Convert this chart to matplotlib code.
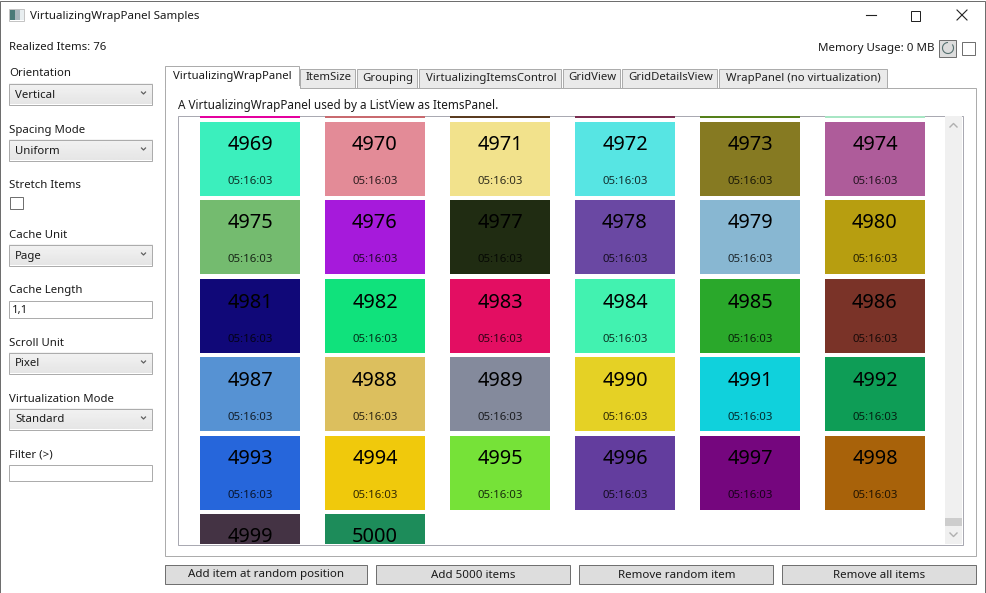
import numpy as np
import matplotlib
matplotlib.use('Agg')
import matplotlib.pyplot as plt
from matplotlib.patches import Rectangle, Arc

plt.rcParams['font.family'] = ['Noto Sans', 'DejaVu Sans']

W, H = 986, 593

# items, read row by row
item_ids = [4969, 4970, 4971, 4972, 4973, 4974,
            4975, 4976, 4977, 4978, 4979, 4980,
            4981, 4982, 4983, 4984, 4985, 4986,
            4987, 4988, 4989, 4990, 4991, 4992,
            4993, 4994, 4995, 4996, 4997, 4998,
            4999, 5000]
item_colors = ['#3befbd', '#e38b97', '#f2e28c', '#57e5e3', '#867a22', '#ae5c9a',
               '#74bb6f', '#a61adb', '#202c12', '#6a48a3', '#88b7d2', '#b79e10',
               '#100878', '#10e27c', '#e30e62', '#42f2b0', '#2aa82b', '#7a3328',
               '#5692d3', '#dcbf5e', '#848a9c', '#e5d125', '#10d1dc', '#0e9d56',
               '#2666db', '#f0c90c', '#76e238', '#633d9e', '#75067e', '#a8620a',
               '#443344', '#1d8c5a']
# bottom edge of the row scrolled out above the list
strip_colors = ['#e4009e', '#c96a6f', '#5b3c20', '#7a2c50', '#55801a', '#a8e6c4']
item_time = '05:16:03'

col_left = [200, 325, 450, 575, 700, 825]
row_top = [122, 200, 279, 357, 436, 514]
strip_top = 44
cell_w, cell_h = 100, 74
list_bottom = 544

tab_labels = ['VirtualizingWrapPanel', 'ItemSize', 'Grouping', 'VirtualizingItemsControl',
              'GridView', 'GridDetailsView', 'WrapPanel (no virtualization)']
tab_edges = [165, 300, 357, 419, 563, 622, 719, 888]

combo_labels = [('Orientation', 74, 'Vertical', 83), ('Spacing Mode', 130, 'Uniform', 139),
                ('Cache Unit', 235, 'Page', 244), ('Scroll Unit', 343, 'Pixel', 352),
                ('Virtualization Mode', 399, 'Standard', 408)]
button_labels = ['Add item at random position', 'Add 5000 items', 'Remove random item', 'Remove all items']
button_edges = [(165, 368), (376, 571), (579, 774), (782, 977)]

FS = 8.45
TAB_FS = 8.15
BORDER = '#acacac'
TEXT = '#1a1a1a'

fig = plt.figure(figsize=(W / 100, H / 100), dpi=100, facecolor='white')
ax = fig.add_axes([0, 0, 1, 1])


def box(x0, y0, x1, y1, fc='white', ec=BORDER, lw=0.72, z=1):
    # 1 px line, snapped onto pixel column x0 and row y0
    r = Rectangle((x0, y0 + 0.75), x1 - x0 - 1, y1 - y0 - 1, fc=fc, ec=ec, lw=lw, zorder=z)
    ax.add_patch(r)
    return r


def label(x, y, s, size=FS, ha='left', color=TEXT, z=5, **kw):
    return ax.text(x, y, s, fontsize=size, ha=ha, va='center', color=color, zorder=z, **kw)


# window frame and title bar
box(0, 0, W, H, fc='white', ec='#6e6e6e', z=0)
ax.add_patch(Rectangle((10, 9), 5, 11, fc='#4a7a78', ec='none', zorder=2))
ax.add_patch(Rectangle((15, 9), 5, 11, fc='#a8b6bc', ec='none', zorder=2))
ax.add_patch(Rectangle((20, 9), 4, 11, fc='#e8eef0', ec='none', zorder=2))
box(9, 8, 25, 21, fc='none', ec='#c4c4c4', z=3)
label(30, 16, 'VirtualizingWrapPanel Samples', size=8.3)
ax.plot([866, 876], [15, 15], color='#222222', lw=0.8, zorder=3)
box(911, 10, 921, 21, fc='none', ec='#222222', z=3)
ax.plot([957, 967], [10, 20], color='#222222', lw=0.8, zorder=3)
ax.plot([957, 967], [20, 10], color='#222222', lw=0.8, zorder=3)

# header row
label(9, 48, 'Realized Items: 76', size=8.2)
label(935, 49, 'Memory Usage: 0 MB', ha='right', size=8.3)
box(939, 39, 957, 57, fc='#dddddd', ec='#707070')
ax.add_patch(Arc((948, 48), 11, 11, theta1=-40, theta2=270, ec='#557070', lw=0.8, zorder=3))
box(962, 41, 976, 55, ec='#707070')

# left column
for name, ly, value, top in combo_labels:
    label(9, ly, name, size=8.2)
    ax.imshow(np.linspace(0.95, 0.9, 16)[:, None], cmap='gray', vmin=0, vmax=1,
              extent=(9, 153, top + 21, top), aspect='auto', zorder=1)
    box(9, top, 153, top + 22, fc='none', ec=BORDER, z=2)
    label(15, top + 12, value, size=8.2)
    ax.plot([141.5, 143.5, 145.5], [top + 9, top + 11, top + 9], color='#606060', lw=0.9, zorder=3)

label(9, 186, 'Stretch Items', size=8.2)
box(10, 196, 24, 209, ec='#707070')
label(9, 291, 'Cache Length', size=8.2)
box(9, 300, 153, 318)
label(12, 310, '1,1', size=8.2)
label(9, 455, 'Filter (>)', size=8.2)
box(9, 464, 153, 481)

# tab strip and tab content
box(165, 87, 977, 556)
for i, name in enumerate(tab_labels):
    if i == 0:
        continue
    box(tab_edges[i], 68, tab_edges[i + 1] - 1 if i < 6 else tab_edges[i + 1], 88, fc='#eaeaea', ec=BORDER)
    label((tab_edges[i] + tab_edges[i + 1]) / 2, 78, name, ha='center', color='#222222', size=TAB_FS)
box(tab_edges[0], 65, tab_edges[1], 88, ec=BORDER, z=2)
ax.add_patch(Rectangle((166, 86), 134, 3, fc='white', ec='none', zorder=3))
label((tab_edges[0] + tab_edges[1]) / 2, 77, tab_labels[0], ha='center', size=TAB_FS)
label(178, 105, 'A VirtualizingWrapPanel used by a ListView as ItemsPanel.')

# list box with clipped items
box(178, 115, 964, 545, ec='#a9a9b2')
clip = Rectangle((179, 116), 766, list_bottom - 116, transform=ax.transData)

for left, col in zip(col_left, strip_colors):
    r = ax.add_patch(Rectangle((left, strip_top), cell_w, cell_h, fc=col, ec='none', zorder=2))
    r.set_clip_path(clip)

for i, (num, col) in enumerate(zip(item_ids, item_colors)):
    left = col_left[i % 6]
    top = row_top[i // 6]
    r = ax.add_patch(Rectangle((left, top), cell_w, cell_h, fc=col, ec='none', zorder=2))
    r.set_clip_path(clip)
    t = label(left + cell_w / 2, top + 23.5, str(num), size=14.4, ha='center', color='#000000', clip_on=True)
    t.set_clip_path(clip)
    # the last row is cut off before its time line
    if top + 60 < list_bottom:
        label(left + cell_w / 2, top + 60, item_time, size=8.2, ha='center', color='#000000', alpha=0.8)

# scrollbar
ax.add_patch(Rectangle((945, 116), 17, 428, fc='#f0f0f0', ec='none', zorder=2))
ax.add_patch(Rectangle((945, 518), 17, 8, fc='#cdcdcd', ec='none', zorder=3))
ax.plot([950, 953.5, 957], [127, 123.5, 127], color='#b0b0b0', lw=1.0, zorder=3)
ax.plot([950, 953.5, 957], [533, 536.5, 533], color='#b0b0b0', lw=1.0, zorder=3)

# bottom buttons
for (x0, x1), name in zip(button_edges, button_labels):
    box(x0, 564, x1, 584, fc='#dddddd', ec='#707070')
    label((x0 + x1) / 2, 575, name, ha='center', size=8.3)

ax.set_xlim(0, W)
ax.set_ylim(H, 0)
ax.axis('off')
fig.savefig('out.png', dpi=100)
plt.close(fig)
